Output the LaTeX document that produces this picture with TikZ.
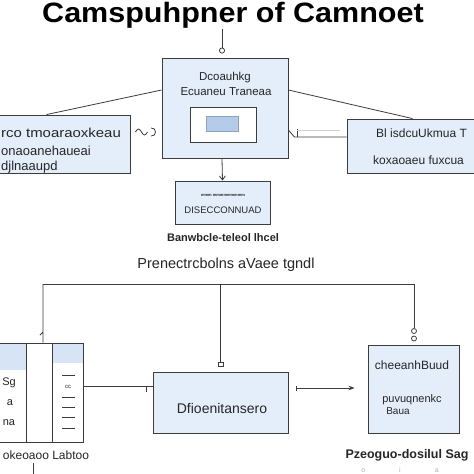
\documentclass[tikz,border=0pt]{standalone}
\usepackage{fontspec}
\setmainfont{Liberation Sans}
\usetikzlibrary{arrows.meta}
\definecolor{boxblue}{RGB}{228,238,250}
\definecolor{paneblue}{RGB}{180,203,234}
\definecolor{headblue}{RGB}{214,228,246}
\definecolor{linegray}{RGB}{60,60,60}
\begin{document}
\begin{tikzpicture}[x=1pt, y=-1pt,
    every node/.style={font=\fontsize{12}{14}\selectfont, text=black!85, inner sep=0pt},
    box/.style={draw=linegray, fill=boxblue, line width=0.9pt},
    wire/.style={draw=linegray, line width=0.8pt}]
  \useasboundingbox[fill=white] (0,0) rectangle (474,474);
  % Title
  \node[font=\fontsize{28}{30}\selectfont\bfseries, text=black] (title) at (233,15.5) {\scalebox{1.09}[1]{Camspuhpner of Camnoet}};
  % Control box with screen
  \node[box, minimum width=126pt, minimum height=100pt] (ctrl) at (225,108) {};
  \node[font=\fontsize{11.5}{13}\selectfont] (ctrlA) at (225,78) {Dcoauhkg};
  \node[font=\fontsize{11.5}{13}\selectfont] (ctrlB) at (226,92) {Ecuaneu Traneaa};
  \node[draw=linegray, fill=white, line width=0.8pt, minimum width=66pt, minimum height=35pt] (screen) at (223,124.5) {};
  \node[draw=paneblue!80!black, fill=paneblue, minimum width=32pt, minimum height=15pt] (pane) at (222,123.5) {};
  \draw[wire, -{Circle[open,length=6pt]}, shorten >=4pt] (pane |- title.south) -- (pane |- ctrl.north);
  % Side boxes
  \node[box, minimum width=134pt, minimum height=58pt] (left) at (63,144) {};
  \node[anchor=west, font=\fontsize{13}{15}\selectfont] (leftA) at (1,133) {\scalebox{1.15}[1]{rco tmoaraoxkeau}};
  \node[anchor=west, font=\fontsize{13}{15}\selectfont] (leftB) at (1,151) {onaoanehaueai};
  \node[anchor=west, font=\fontsize{13}{15}\selectfont] (leftC) at (1,167) {djlnaaupd};
  \node[box, minimum width=131pt, minimum height=54pt] (right) at (412.5,146) {};
  \node[anchor=west] (rightA) at (376,133) {Bl isdcuUkmua T};
  \node[anchor=west] (rightB) at (373,160) {koxaoaeu fuxcua};
  \draw[wire] ([xshift=51pt]left.north west) -- ([yshift=18pt]ctrl.west);
  \draw[wire] ([yshift=18pt]ctrl.east) -- (right.north);
  % Small links between side boxes and control box
  \coordinate (waveL) at ([yshift=12pt]left.east);
  \draw[wire] ([xshift=5pt]waveL) sin ++(3,-3) cos ++(3,3) sin ++(3,3) cos ++(3,-3);
  \draw[wire] (151,128) .. controls (157,127) and (157,137) .. (151,136);
  \coordinate (hookR) at ([yshift=-22pt]ctrl.east);
  \draw[wire] (hookR) -- ++(6,7) coordinate (hookR2) -- (hookR2 -| right.west);
  \draw[wire] ([xshift=3pt]hookR2) -- ++(0,-8);
  \draw[gray!35, line width=0.8pt] ([xshift=3pt,yshift=7pt]hookR2) -- ([xshift=-7pt,yshift=7pt]hookR2 -| right.west);
  % Disc box
  \node[box, minimum width=95pt, minimum height=43pt] (disc) at (222.5,202.5) {};
  \node[font=\fontsize{4}{5}\selectfont\bfseries] (discA) at (223,195) {mmm mmmmmmmmm};
  \node[font=\fontsize{9.5}{11}\selectfont] (discB) at (223,210) {DISECCONNUAD};
  \draw[wire, -{Straight Barb[length=4pt,width=6pt]}] (pane |- ctrl.south) -- (disc.north);
  \node[font=\fontsize{11}{13}\selectfont\bfseries] (discL) at (223,238) {Banwbcle-teleol lhcel};
  % Heading and bus
  \node[font=\fontsize{14.5}{16}\selectfont] (head) at (226,265) {Prenectrcbolns aVaee tgndl};
  \coordinate (busL) at (43,284);
  \coordinate (busR) at (414,284);
  \draw[wire] (busL) -- (busR);
  % Stack of columns
  \fill[headblue] (-4,343) rectangle (26,370);
  \fill[headblue] (52,343) rectangle (83,363);
  \node[draw=linegray, line width=0.8pt, minimum width=30pt, minimum height=99pt] (colA) at (11,392.5) {};
  \node[draw=linegray, line width=0.8pt, minimum width=26pt, minimum height=99pt] (colB) at (39,392.5) {};
  \node[draw=linegray, line width=0.8pt, minimum width=31pt, minimum height=99pt] (colC) at (67.5,392.5) {};
  \node[font=\fontsize{11}{13}\selectfont] (colA1) at (9,383) {Sg};
  \node[font=\fontsize{11}{13}\selectfont] (colA2) at (10,403) {a};
  \node[font=\fontsize{11}{13}\selectfont] (colA3) at (9,423) {na};
  \node[font=\fontsize{6}{7}\selectfont] (colC1) at (68,387) {cc};
  \foreach \y in {375,397,407,417,428}
    \draw[linegray, line width=0.7pt] (62,\y) -- (75,\y);
  \draw[wire] (busL) -- ++(0,48) -- ++(-3,3) ++(3,-3) -- (busL |- colB.north);
  \node[font=\fontsize{12}{14}\selectfont] (stackL) at (46,455) {okeoaoo Labtoo};
  \draw[wire] (33,463) -- (33,476);
  % Middle box
  \node[box, minimum width=135pt, minimum height=61pt] (mid) at (220.5,402.5) {};
  \node[font=\fontsize{14}{16}\selectfont] (midA) at (222,408) {Dfioenitansero};
  \draw[wire, -{Square[open,length=5pt,width=6pt]}, shorten >=5pt] (busL -| mid.north) -- (mid.north);
  \coordinate (tapL) at ([yshift=6.5pt]colC.east);
  \draw[wire] (tapL) -- (tapL -| mid.west);
  \draw[wire] ([xshift=-6pt]tapL -| mid.west) -- ++(0,6);
  % Output box
  \node[box, minimum width=91pt, minimum height=88pt] (out) at (413.5,389) {};
  \node (outA) at (412,365) {cheeanhBuud};
  \node[font=\fontsize{11}{13}\selectfont] (outB) at (412,400) {puvuqnenkc};
  \node[font=\fontsize{10}{12}\selectfont] (outC) at (398,411) {Baua};
  \draw[wire] (busR) -- ++(0,44);
  \draw[wire] (busR |- 0,331) circle (2.5pt);
  \draw[wire] (busR |- 0,338.5) circle (2.5pt);
  \coordinate (tapR) at ([yshift=14.5pt]mid.east);
  \draw[wire, {Bar[width=5pt]}-{Stealth[length=6pt]}, shorten <=8pt, shorten >=13pt] (tapR) -- (tapR -| out.west);
  \node[font=\fontsize{12.5}{14}\selectfont\bfseries] (outL) at (407,455) {Pzeoguo-dosilul Sag};
  \node[font=\fontsize{7}{8}\selectfont, text=gray!60] (outM) at (400,470) {o\hspace{34pt}i\hspace{34pt}a};
\end{tikzpicture}
\end{document}
